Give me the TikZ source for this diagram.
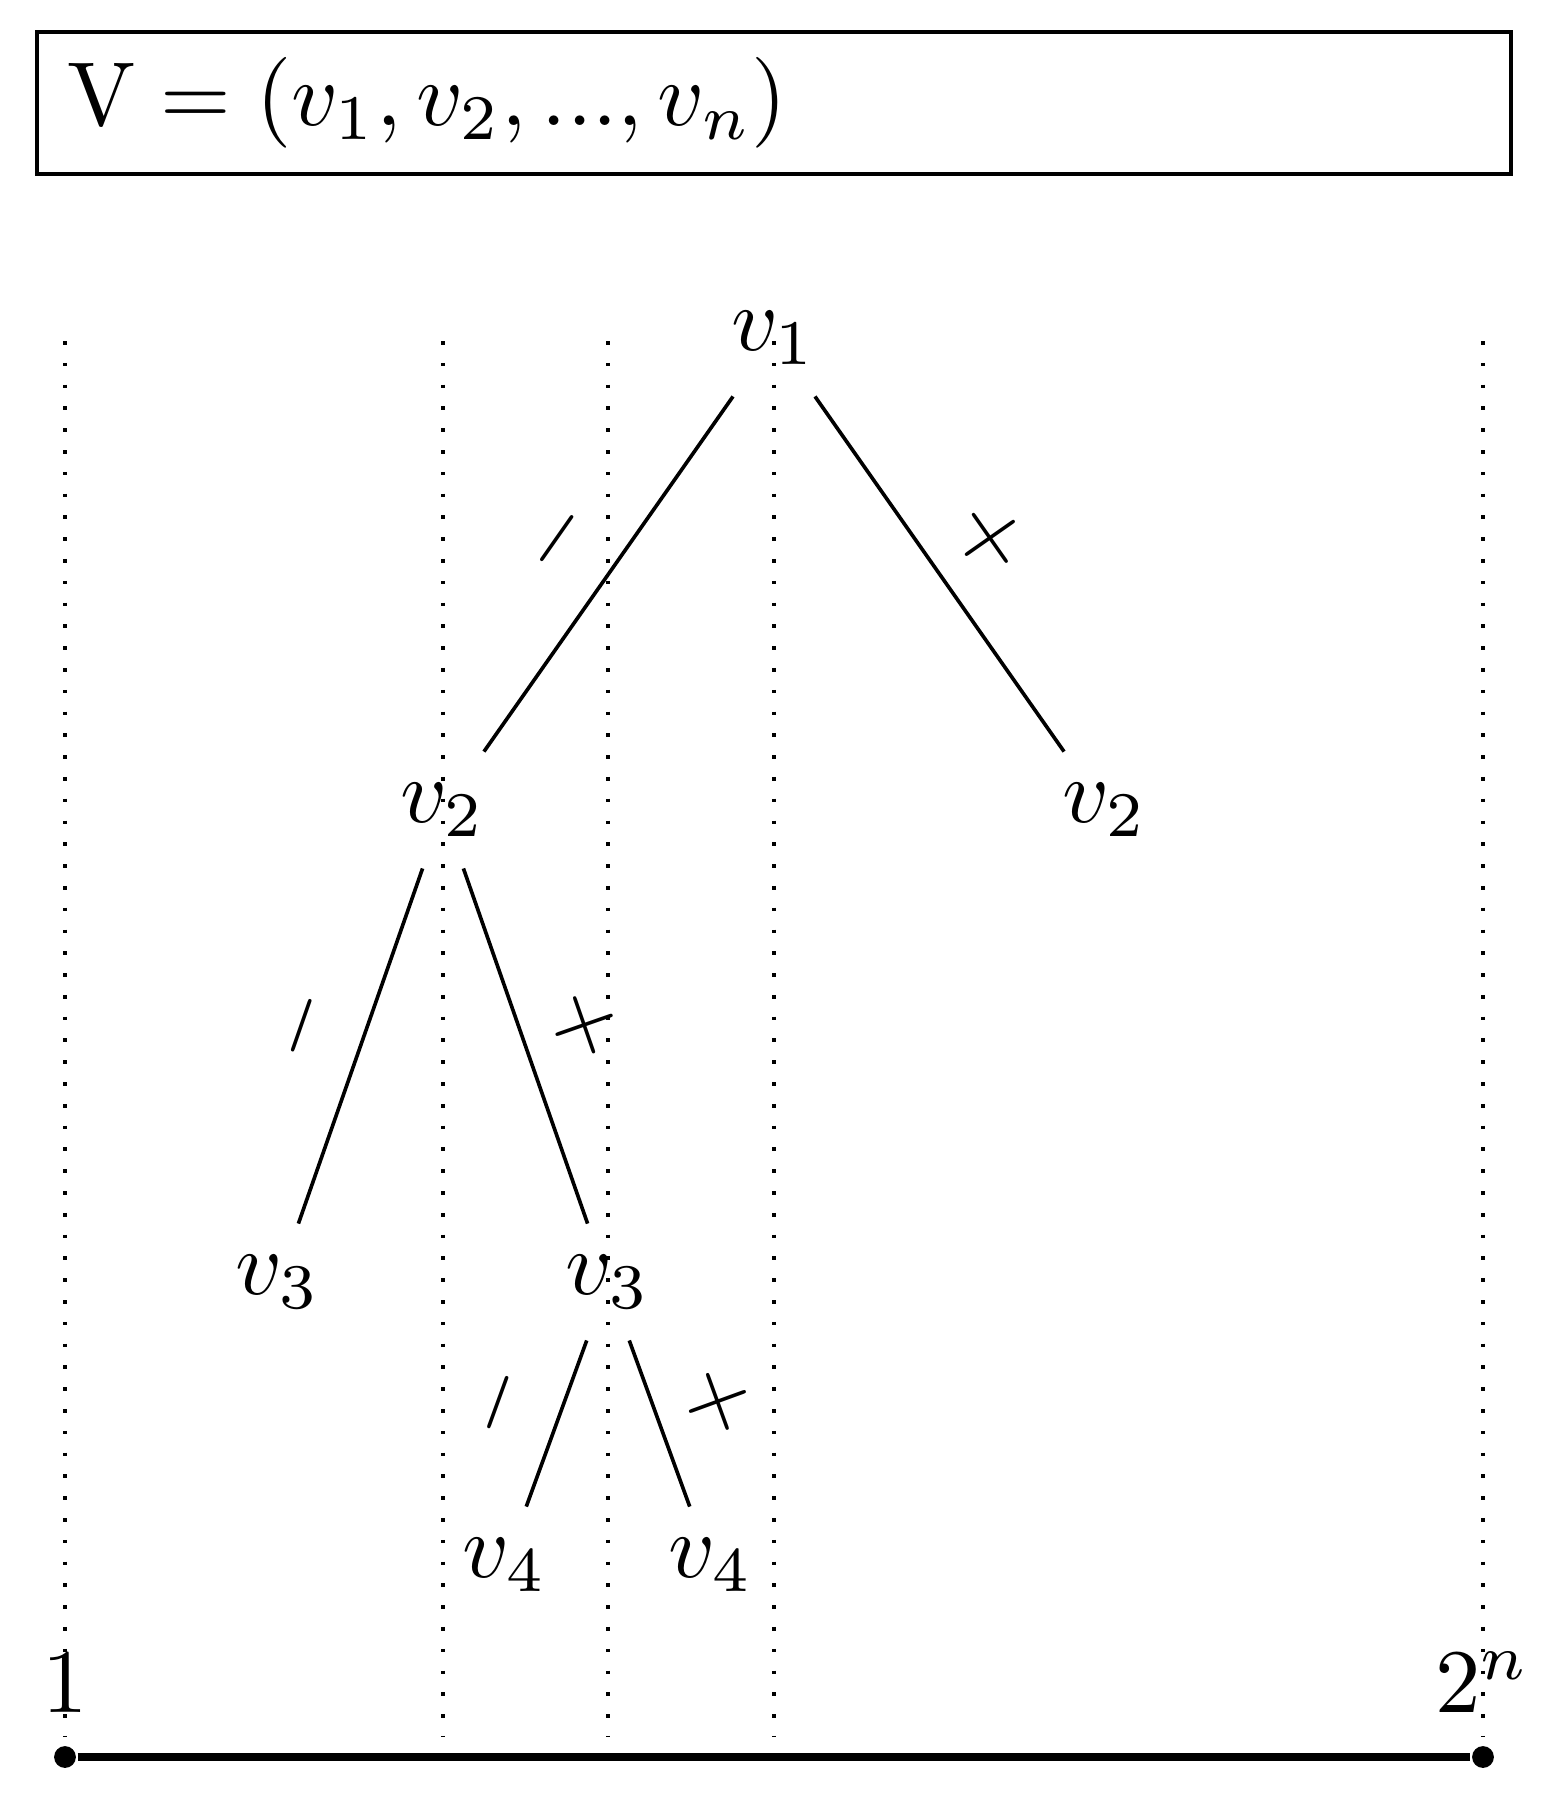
\documentclass[tikz,border=0pt]{standalone}
\usepackage{amsmath, amssymb}
\usepackage{tikz}
\usetikzlibrary{
  positioning, fit
}

\begin{document}
\begin{tikzpicture}[scale=0.387,
    guide/.style={dotted},
    sign/.style={midway, above, sloped},
    endpt/.style={circle, fill, inner sep=0pt, minimum size=2.4pt}]
        \useasboundingbox (0,0) rectangle (15.42,-18);
        % vector box
        \coordinate (boxsw) at (0.37,-1.74);
        \coordinate (boxne) at (15.11,-0.32);
        \node[draw, fit=(boxsw)(boxne), inner sep=0pt] (vecbox) {};
        \node[anchor=west] (vec) at (vecbox.west) {$\mathrm{V} = (v_1, v_2, ..., v_n)$};
        % guide lines
        \foreach \x in {0.65, 4.43, 6.08, 7.74, 14.83}
          \draw[guide] (\x,-3.41) -- (\x,-17.37);
        % tree
        \node (v1) at (7.74,-3.38) {$v_1$};
        \node (v2a) at (4.43,-8.10) {$v_2$};
        \node (v2b) at (11.05,-8.10) {$v_2$};
        \node (v3a) at (2.78,-12.82) {$v_3$};
        \node (v3b) at (6.08,-12.82) {$v_3$};
        \node (v4a) at (5.05,-15.65) {$v_4$};
        \node (v4b) at (7.11,-15.65) {$v_4$};
        \draw (v1) -- (v2a) node[sign] {$-$};
        \draw (v1) -- (v2b) node[sign] {$+$};
        \draw (v2a) -- (v3a) node[sign] {$-$};
        \draw (v2a) -- (v3b) node[sign] {$+$};
        \draw (v3b) -- (v4a) node[sign] {$-$};
        \draw (v3b) -- (v4b) node[sign] {$+$};
        % range 1 .. 2^n
        \node[endpt] (lo) at (0.65,-17.57) {};
        \node[endpt] (hi) at (14.83,-17.57) {};
        \draw[thick] (lo) -- (hi);
        \node[above=0pt of lo] (one) {$1$};
        \node[above=0pt of hi] (twon) {$2^n$};
      \end{tikzpicture}
\end{document}
